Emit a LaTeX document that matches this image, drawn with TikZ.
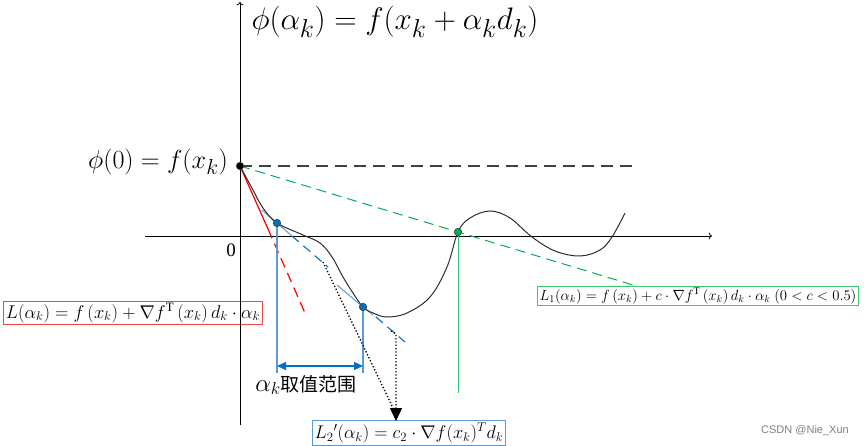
\documentclass[tikz,border=0pt]{standalone}
\usepackage{fontspec}
\setmainfont{Liberation Serif}
\setsansfont{Liberation Sans}
\newfontfamily\cjk{Noto Sans CJK SC}
\usetikzlibrary{arrows.meta}

\definecolor{msblue}{RGB}{0,112,192}
\definecolor{lightblue}{RGB}{91,155,213}
\definecolor{msgreen}{RGB}{0,176,80}
\definecolor{boxgreen}{RGB}{60,200,110}
\definecolor{boxred}{RGB}{240,70,70}
\definecolor{curvegray}{RGB}{45,45,45}

\begin{document}
\begin{tikzpicture}[x=1pt,y=-1pt,
  dot/.style={circle,draw=black!75,line width=0.6pt,inner sep=0pt,minimum size=7.5pt},
  formula/.style={draw,inner sep=2pt,line width=1pt}]
\useasboundingbox (0,0) rectangle (864,446);
  % Define the nodes
\coordinate (p0) at (240,166);
\coordinate (pa) at (277,223);
\coordinate (pb) at (363,307);
\coordinate (pc) at (458,232);
\node[font=\fontsize{24.88}{28}\selectfont,scale=1.25] at (395,22) (title) {$\phi(\alpha_k)=f(x_k+\alpha_k d_k)$};
\node[font=\fontsize{24.88}{28}\selectfont,scale=1.05] at (158,162) (phi0) {$\phi(0)=f(x_k)$};
\node[font=\fontsize{19}{22}\selectfont] at (231,250) (zero) {0};
\node[formula,draw=boxred,font=\fontsize{17.28}{20}\selectfont,scale=1.065] at (133,313) (lin)
  {$L(\alpha_k)=f\left(x_k\right)+\nabla f^{\mathrm{T}}\left(x_k\right)d_k\cdot\alpha_k$};
\node[formula,draw=boxgreen,font=\fontsize{14.4}{16}\selectfont,scale=1.025] at (698,296) (armijo)
  {$L_1(\alpha_k)=f\left(x_k\right)+c\cdot\nabla f^{\mathrm{T}}\left(x_k\right)d_k\cdot\alpha_k\ (0<c<0.5)$};
\node[formula,draw=lightblue,font=\fontsize{17.28}{20}\selectfont,scale=1.06] at (409,433) (wolfe)
  {$L_2{}'(\alpha_k)=c_2\cdot\nabla f(x_k)^T d_k$};
\node at (306,385) (range) {\fontsize{24}{26}\selectfont$\alpha_k$\cjk\fontsize{19}{22}\selectfont 取值范围};
\node[font=\sffamily\fontsize{11}{13}\selectfont,text=black!50] at (805,431) (mark) {CSDN @Nie\_Xun};
\coordinate (yb) at (240,425);
\coordinate (yt) at (240,2);
\coordinate (xl) at (145,236);
\coordinate (xr) at (712,236);
% Draw the paths
\draw[->,line width=0.8pt] (yb) -- (yt);
\draw[->,line width=0.8pt] (xl) -- (xr);
\draw[dashed,black!75,line width=1.2pt,dash pattern=on 12pt off 7pt] (p0) -- (637,166);
\draw[msgreen,line width=1pt,dash pattern=on 10pt off 6pt] (p0) -- (633,285);
\draw[red,line width=1.2pt] (p0) -- (268,229);
\draw[red,line width=1.2pt,dash pattern=on 10pt off 6pt] (268,229) -- (305,313);
\draw[lightblue,line width=1pt] (262,210) -- (pa) -- (292,236);
\draw[msblue,line width=1.1pt,dash pattern=on 9pt off 6pt] (292,236) -- (328,267);
\draw[lightblue,line width=1pt] (337,285) -- (pb) -- (373,315);
\draw[msblue,line width=1.1pt,dash pattern=on 9pt off 6pt] (376,317) -- (405,342);
\draw[lightblue,line width=1.3pt] (pa) -- (277,373);
\draw[lightblue,line width=1.3pt] (pb) -- (363,373);
\draw[msgreen!80,line width=1pt] (pc) -- (458,393);
\draw[msblue,line width=1.2pt,{Triangle[length=9pt,width=8pt]}-{Triangle[length=9pt,width=8pt]}] (277,366) -- (363,366);
\draw[curvegray,line width=1pt] plot[smooth,tension=0.6] coordinates {(240,166) (253,190) (263,208) (277,223) (303,235) (320,243) (332,257) (343,277) (353,293) (363,307) (373,313) (387,317) (407,313) (430,297) (447,267) (458,232) (470,218) (490,211) (510,218) (532,237) (555,251) (580,256) (600,250) (612,237) (625,213)};
\draw[line width=1.3pt,dash pattern=on 1.3pt off 2pt] (323,262) -- (394,410);
\draw[line width=1.3pt,dash pattern=on 1.3pt off 2pt,-{Triangle[length=13pt,width=12pt]}] (391,331) -- (396,334) -- (396,421);
\node[dot,fill=black] at (p0) (d0) {};
\node[dot,fill=msblue] at (pa) (da) {};
\node[dot,fill=msblue] at (pb) (db) {};
\node[dot,fill=msgreen] at (pc) (dc) {};
\end{tikzpicture}
\end{document}
